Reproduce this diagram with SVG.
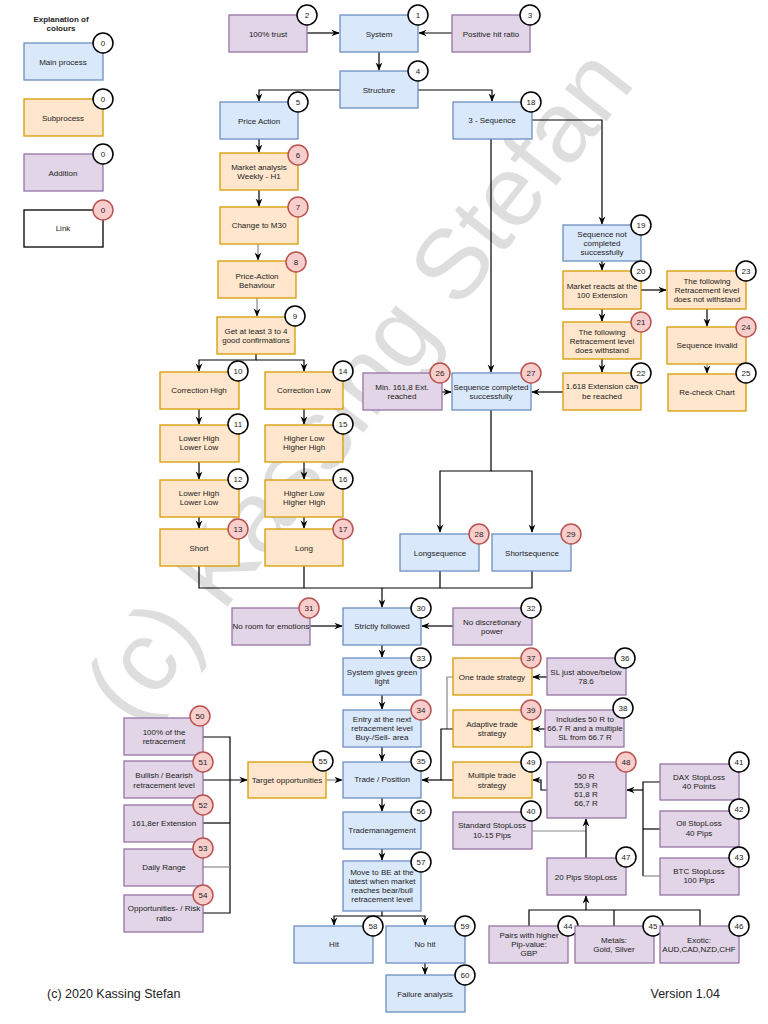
<svg xmlns="http://www.w3.org/2000/svg" width="768" height="1024" viewBox="0 0 768 1024">
<defs>
<marker id="a" viewBox="0 0 10 10" refX="9" refY="5" markerWidth="7" markerHeight="7" orient="auto"><path d="M0,1 L10,5 L0,9 L3,5 z" fill="#000"/></marker>
<style>
text{font-family:"Liberation Sans",Arial,sans-serif;font-size:8px;fill:#222;text-anchor:middle}
.b rect{fill:#dae8fc;stroke:#6c8ebf;stroke-width:1.3}
.o rect{fill:#ffe6cc;stroke:#d79b00;stroke-width:1.3}
.p rect{fill:#e1d5e7;stroke:#9673a6;stroke-width:1.3}
.w rect{fill:#fff;stroke:#000;stroke-width:1.3}
circle{fill:#fff;stroke:#000;stroke-width:1.5}
circle.r{fill:#f8cecc;stroke:#b85450}
.n{font-size:8px}
#c path{fill:none;stroke:#000;stroke-width:1.2}
#c path.g{stroke:#888}
.m{marker-end:url(#a)}
</style>
</defs>
<rect width="768" height="1024" fill="#fff"/>
<text x="385" y="405" transform="rotate(-52 385 405)" style="font-size:100px;fill:#000;fill-opacity:0.13">(c) Kassing Stefan</text>
<text x="61" y="22" style="font-weight:bold;font-size:8px">Explanation of</text>
<text x="61" y="31" style="font-weight:bold;font-size:8px">colours</text>
<g id="c">
<path class="m" d="M307,33 H339"/><path class="m" d="M452,33 H419"/><path class="m" d="M379,52 V70"/>
<path class="m" d="M340,90 H259 V101"/><path class="m" d="M418,90 H492 V101"/>
<path class="m" d="M259,139 V152"/><path class="m" d="M259,190 V206"/><path class="m g" d="M258,244 V260"/><path class="m g" d="M257,298 V316"/>
<path class="m" d="M256,354 V360 H199 V371"/><path class="m" d="M256,360 H304 V371"/>
<path class="m" d="M199,409 V424"/><path class="m" d="M199,462 V479"/><path class="m" d="M199,517 V528"/>
<path class="m" d="M304,409 V424"/><path class="m" d="M304,462 V479"/><path class="m" d="M304,517 V528"/>
<path d="M199,566 V588 H532 V571"/><path d="M304,566 V588"/><path d="M440,571 V588"/><path class="m" d="M382,588 V607"/>
<path class="m" d="M491,139 V372"/><path class="m" d="M532,120 H602 V224"/>
<path class="m" d="M602,261 V270"/><path class="m" d="M602,309 V321"/><path class="m" d="M602,359 V372"/><path class="m" d="M641,290 H666"/>
<path class="m" d="M707,309 V326"/><path class="m g" d="M707,364 V373"/>
<path class="m" d="M563,392 H532"/><path class="m" d="M442,392 H451"/>
<path class="m" d="M491,410 V471 H440 V532"/><path class="m" d="M491,471 H532 V532"/>
<path class="m" d="M310,626 H342"/><path class="m" d="M453,626 H422"/>
<path class="m" d="M382,645 V657"/><path class="m" d="M382,695 V709"/><path class="m" d="M382,747 V761"/><path class="m" d="M382,798 V811"/><path class="m" d="M382,849 V860"/>
<path class="m" d="M382,911 V916 H334 V925"/><path class="m" d="M382,916 H425 V925"/><path class="m" d="M425,963 V974"/>
<path d="M203,737 H230 V913 H203"/><path d="M203,823 H230"/><path class="g" d="M203,867 H230"/><path class="m" d="M203,780 H247"/>
<path class="m g" d="M326,780 H342"/>
<path class="g" d="M453,677 H447 V729"/><path d="M453,729 H441 V780"/><path class="m" d="M453,780 H422"/>
<path class="m" d="M547,677 H533"/><path class="m" d="M545,729 H533"/>
<path class="m" d="M547,790 H541 V780 H533"/>
<path class="g" d="M532,831 H586"/><path class="m" d="M586,858 V819"/>
<path d="M660,782 H643 V876"/><path d="M660,829 H643"/><path class="g" d="M660,876 H643"/><path class="m" d="M643,790 H627"/>
<path d="M529,926 V910 H700 V926"/><path d="M614,910 V926"/><path class="m" d="M586,910 V896"/>
</g>
<g id="n0a" class="b"><rect x="24" y="43" width="79" height="37"/><text x="63" y="65">Main process</text><circle cx="103" cy="43" r="10"/><text class="n" x="103" y="46">0</text></g>
<g id="n0b" class="o"><rect x="24" y="99" width="79" height="37"/><text x="63" y="121">Subprocess</text><circle cx="103" cy="99" r="10"/><text class="n" x="103" y="102">0</text></g>
<g id="n0c" class="p"><rect x="24" y="154" width="79" height="37"/><text x="63" y="176">Addition</text><circle cx="103" cy="154" r="10"/><text class="n" x="103" y="157">0</text></g>
<g id="n0d" class="w"><rect x="24" y="210" width="79" height="37"/><text x="63" y="231">Link</text><circle class="r" cx="103" cy="210" r="10"/><text class="n" x="103" y="213">0</text></g>
<g id="n2" class="p"><rect x="229" y="15" width="78" height="37"/><text x="268" y="37">100% trust</text><circle cx="307" cy="15" r="10"/><text class="n" x="307" y="18">2</text></g>
<g id="n1" class="b"><rect x="340" y="15" width="78" height="37"/><text x="379" y="37">System</text><circle cx="418" cy="15" r="10"/><text class="n" x="418" y="18">1</text></g>
<g id="n3" class="p"><rect x="452" y="15" width="78" height="37"/><text x="491" y="37">Positive hit ratio</text><circle cx="530" cy="15" r="10"/><text class="n" x="530" y="18">3</text></g>
<g id="n4" class="b"><rect x="340" y="71" width="78" height="37"/><text x="379" y="93">Structure</text><circle cx="418" cy="71" r="10"/><text class="n" x="418" y="74">4</text></g>
<g id="n5" class="b"><rect x="220" y="102" width="78" height="37"/><text x="259" y="124">Price Action</text><circle cx="298" cy="102" r="10"/><text class="n" x="298" y="105">5</text></g>
<g id="n6" class="o"><rect x="220" y="153" width="78" height="37"/><text x="259" y="170">Market analysis</text><text x="259" y="179">Weekly - H1</text><circle class="r" cx="298" cy="155" r="10"/><text class="n" x="298" y="158">6</text></g>
<g id="n7" class="o"><rect x="220" y="207" width="78" height="37"/><text x="259" y="228">Change to M30</text><circle class="r" cx="298" cy="207" r="10"/><text class="n" x="298" y="210">7</text></g>
<g id="n8" class="o"><rect x="218" y="261" width="78" height="37"/><text x="257" y="279">Price-Action</text><text x="257" y="288">Behaviour</text><circle class="r" cx="296" cy="262" r="10"/><text class="n" x="296" y="265">8</text></g>
<g id="n9" class="o"><rect x="217" y="317" width="78" height="37"/><text x="256" y="334">Get at least 3 to 4</text><text x="256" y="343">good confirmations</text><circle cx="295" cy="316" r="10"/><text class="n" x="295" y="319">9</text></g>
<g id="n10" class="o"><rect x="160" y="372" width="79" height="37"/><text x="199" y="393">Correction High</text><circle cx="238" cy="371" r="10"/><text class="n" x="238" y="374">10</text></g>
<g id="n11" class="o"><rect x="160" y="425" width="79" height="37"/><text x="199" y="441">Lower High</text><text x="199" y="450">Lower Low</text><circle cx="238" cy="424" r="10"/><text class="n" x="238" y="427">11</text></g>
<g id="n12" class="o"><rect x="160" y="480" width="79" height="37"/><text x="199" y="496">Lower High</text><text x="199" y="505">Lower Low</text><circle cx="238" cy="479" r="10"/><text class="n" x="238" y="482">12</text></g>
<g id="n13" class="o"><rect x="160" y="529" width="79" height="37"/><text x="199" y="551">Short</text><circle class="r" cx="238" cy="529" r="10"/><text class="n" x="238" y="532">13</text></g>
<g id="n14" class="o"><rect x="265" y="372" width="78" height="37"/><text x="304" y="393">Correction Low</text><circle cx="343" cy="371" r="10"/><text class="n" x="343" y="374">14</text></g>
<g id="n15" class="o"><rect x="265" y="425" width="78" height="37"/><text x="304" y="441">Higher Low</text><text x="304" y="450">Higher High</text><circle cx="343" cy="424" r="10"/><text class="n" x="343" y="427">15</text></g>
<g id="n16" class="o"><rect x="265" y="480" width="78" height="37"/><text x="304" y="496">Higher Low</text><text x="304" y="505">Higher High</text><circle cx="343" cy="479" r="10"/><text class="n" x="343" y="482">16</text></g>
<g id="n17" class="o"><rect x="265" y="529" width="78" height="37"/><text x="304" y="551">Long</text><circle class="r" cx="343" cy="529" r="10"/><text class="n" x="343" y="532">17</text></g>
<g id="n18" class="b"><rect x="453" y="102" width="79" height="37"/><text x="492" y="123">3 - Sequence</text><circle cx="531" cy="102" r="10"/><text class="n" x="531" y="105">18</text></g>
<g id="n19" class="b"><rect x="563" y="225" width="78" height="36"/><text x="602" y="237">Sequence not</text><text x="602" y="246">completed</text><text x="602" y="255">successfully</text><circle cx="641" cy="225" r="10"/><text class="n" x="641" y="228">19</text></g>
<g id="n20" class="o"><rect x="563" y="271" width="78" height="38"/><text x="602" y="289">Market reacts at the</text><text x="602" y="298">100 Extension</text><circle cx="641" cy="271" r="10"/><text class="n" x="641" y="274">20</text></g>
<g id="n21" class="o"><rect x="563" y="322" width="78" height="37"/><text x="602" y="335">The following</text><text x="602" y="344">Retracement level</text><text x="602" y="353">does withstand</text><circle class="r" cx="641" cy="322" r="10"/><text class="n" x="641" y="325">21</text></g>
<g id="n22" class="o"><rect x="563" y="373" width="78" height="37"/><text x="602" y="389">1.618 Extension can</text><text x="602" y="399">be reached</text><circle cx="641" cy="373" r="10"/><text class="n" x="641" y="376">22</text></g>
<g id="n23" class="o"><rect x="667" y="271" width="79" height="38"/><text x="707" y="284">The following</text><text x="707" y="293">Retracement level</text><text x="707" y="302">does not withstand</text><circle cx="746" cy="271" r="10"/><text class="n" x="746" y="274">23</text></g>
<g id="n24" class="o"><rect x="667" y="327" width="79" height="37"/><text x="707" y="348">Sequence invalid</text><circle class="r" cx="746" cy="327" r="10"/><text class="n" x="746" y="330">24</text></g>
<g id="n25" class="o"><rect x="668" y="374" width="78" height="37"/><text x="707" y="395">Re-check Chart</text><circle cx="746" cy="373" r="10"/><text class="n" x="746" y="376">25</text></g>
<g id="n26" class="p"><rect x="363" y="373" width="79" height="37"/><text x="402" y="390">Min. 161,8 Ext.</text><text x="402" y="399">reached</text><circle class="r" cx="440" cy="373" r="10"/><text class="n" x="440" y="376">26</text></g>
<g id="n27" class="b"><rect x="452" y="373" width="79" height="37"/><text x="491" y="390">Sequence completed</text><text x="491" y="399">successfully</text><circle class="r" cx="531" cy="373" r="10"/><text class="n" x="531" y="376">27</text></g>
<g id="n28" class="b"><rect x="400" y="534" width="79" height="37"/><text x="440" y="556">Longsequence</text><circle class="r" cx="479" cy="534" r="10"/><text class="n" x="479" y="537">28</text></g>
<g id="n29" class="b"><rect x="492" y="534" width="79" height="37"/><text x="532" y="556">Shortsequence</text><circle class="r" cx="571" cy="534" r="10"/><text class="n" x="571" y="537">29</text></g>
<g id="n30" class="b"><rect x="343" y="608" width="78" height="37"/><text x="382" y="629">Strictly followed</text><circle cx="421" cy="608" r="10"/><text class="n" x="421" y="611">30</text></g>
<g id="n31" class="p"><rect x="232" y="608" width="78" height="37"/><text x="271" y="629">No room for emotions</text><circle class="r" cx="309" cy="608" r="10"/><text class="n" x="309" y="611">31</text></g>
<g id="n32" class="p"><rect x="453" y="608" width="79" height="37"/><text x="492" y="625">No discretionary</text><text x="492" y="634">power</text><circle cx="531" cy="608" r="10"/><text class="n" x="531" y="611">32</text></g>
<g id="n33" class="b"><rect x="343" y="658" width="78" height="37"/><text x="382" y="675">System gives green</text><text x="382" y="684">light</text><circle cx="421" cy="658" r="10"/><text class="n" x="421" y="661">33</text></g>
<g id="n34" class="b"><rect x="343" y="710" width="78" height="37"/><text x="382" y="722">Entry at the next</text><text x="382" y="731">retracement level</text><text x="382" y="740">Buy-/Sell- area</text><circle class="r" cx="421" cy="710" r="10"/><text class="n" x="421" y="713">34</text></g>
<g id="n35" class="b"><rect x="343" y="762" width="78" height="36"/><text x="382" y="782">Trade / Position</text><circle cx="421" cy="761" r="10"/><text class="n" x="421" y="764">35</text></g>
<g id="n56" class="b"><rect x="343" y="812" width="78" height="37"/><text x="382" y="833">Trademanagement</text><circle cx="421" cy="811" r="10"/><text class="n" x="421" y="814">56</text></g>
<g id="n57" class="b"><rect x="343" y="861" width="78" height="50"/><text x="382" y="875">Move to BE at the</text><text x="382" y="884">latest when market</text><text x="382" y="893">reaches bear/bull</text><text x="382" y="902">retracement level</text><circle cx="421" cy="862" r="10"/><text class="n" x="421" y="865">57</text></g>
<g id="n58" class="b"><rect x="294" y="926" width="79" height="37"/><text x="334" y="947">Hit</text><circle cx="373" cy="926" r="10"/><text class="n" x="373" y="929">58</text></g>
<g id="n59" class="b"><rect x="386" y="926" width="79" height="37"/><text x="425" y="947">No hit</text><circle cx="465" cy="926" r="10"/><text class="n" x="465" y="929">59</text></g>
<g id="n60" class="b"><rect x="386" y="975" width="79" height="37"/><text x="425" y="997">Failure analysis</text><circle cx="465" cy="975" r="10"/><text class="n" x="465" y="978">60</text></g>
<g id="n55" class="o"><rect x="248" y="762" width="78" height="36"/><text x="287" y="783">Target opportunities</text><circle cx="323" cy="761" r="10"/><text class="n" x="323" y="764">55</text></g>
<g id="n50" class="p"><rect x="124" y="718" width="79" height="37"/><text x="164" y="735">100% of the</text><text x="164" y="744">retracement</text><circle class="r" cx="200" cy="716" r="10"/><text class="n" x="200" y="719">50</text></g>
<g id="n51" class="p"><rect x="124" y="761" width="79" height="37"/><text x="164" y="778">Bullish / Bearish</text><text x="164" y="788">retracement level</text><circle class="r" cx="203" cy="762" r="10"/><text class="n" x="203" y="765">51</text></g>
<g id="n52" class="p"><rect x="124" y="805" width="79" height="37"/><text x="164" y="826">161,8er Extension</text><circle class="r" cx="203" cy="805" r="10"/><text class="n" x="203" y="808">52</text></g>
<g id="n53" class="p"><rect x="124" y="849" width="79" height="37"/><text x="164" y="870">Daily Range</text><circle class="r" cx="203" cy="848" r="10"/><text class="n" x="203" y="851">53</text></g>
<g id="n54" class="p"><rect x="124" y="895" width="79" height="37"/><text x="164" y="911">Opportunities- / Risk</text><text x="164" y="921">ratio</text><circle class="r" cx="203" cy="895" r="10"/><text class="n" x="203" y="898">54</text></g>
<g id="n37" class="o"><rect x="453" y="658" width="79" height="37"/><text x="492" y="680">One trade strategy</text><circle class="r" cx="531" cy="658" r="10"/><text class="n" x="531" y="661">37</text></g>
<g id="n39" class="o"><rect x="453" y="710" width="79" height="37"/><text x="492" y="727">Adaptive trade</text><text x="492" y="736">strategy</text><circle class="r" cx="531" cy="710" r="10"/><text class="n" x="531" y="713">39</text></g>
<g id="n49" class="o"><rect x="453" y="762" width="79" height="36"/><text x="492" y="778">Multiple trade</text><text x="492" y="788">strategy</text><circle cx="531" cy="762" r="10"/><text class="n" x="531" y="765">49</text></g>
<g id="n40" class="p"><rect x="453" y="812" width="79" height="37"/><text x="492" y="828">Standard StopLoss</text><text x="492" y="838">10-15 Pips</text><circle cx="531" cy="811" r="10"/><text class="n" x="531" y="814">40</text></g>
<g id="n36" class="p"><rect x="547" y="658" width="79" height="37"/><text x="586" y="675">SL just above/below</text><text x="586" y="684">78.6</text><circle cx="625" cy="658" r="10"/><text class="n" x="625" y="661">36</text></g>
<g id="n38" class="p"><rect x="545" y="710" width="79" height="37"/><text x="585" y="722">Includes 50 R to</text><text x="585" y="731">66.7 R and a multiple</text><text x="585" y="740">SL from 66.7 R</text><circle cx="623" cy="708" r="10"/><text class="n" x="623" y="711">38</text></g>
<g id="n48" class="p"><rect x="547" y="762" width="79" height="56"/><text x="586" y="779">50 R</text><text x="586" y="788">55,9 R</text><text x="586" y="797">61,8 R</text><text x="586" y="806">66,7 R</text><circle class="r" cx="626" cy="762" r="10"/><text class="n" x="626" y="765">48</text></g>
<g id="n47" class="p"><rect x="547" y="858" width="79" height="37"/><text x="586" y="880">20 Pips StopLoss</text><circle cx="626" cy="857" r="10"/><text class="n" x="626" y="860">47</text></g>
<g id="n41" class="p"><rect x="660" y="764" width="79" height="36"/><text x="699" y="780">DAX StopLoss</text><text x="699" y="789">40 Points</text><circle cx="739" cy="762" r="10"/><text class="n" x="739" y="765">41</text></g>
<g id="n42" class="p"><rect x="660" y="811" width="79" height="36"/><text x="699" y="826">Oil StopLoss</text><text x="699" y="836">40 Pips</text><circle cx="739" cy="809" r="10"/><text class="n" x="739" y="812">42</text></g>
<g id="n43" class="p"><rect x="660" y="858" width="79" height="37"/><text x="699" y="874">BTC StopLoss</text><text x="699" y="883">100 Pips</text><circle cx="739" cy="857" r="10"/><text class="n" x="739" y="860">43</text></g>
<g id="n44" class="p"><rect x="489" y="926" width="79" height="37"/><text x="529" y="938">Pairs with higher</text><text x="529" y="947">Pip-value:</text><text x="529" y="956">GBP</text><circle cx="568" cy="926" r="10"/><text class="n" x="568" y="929">44</text></g>
<g id="n45" class="p"><rect x="575" y="926" width="79" height="37"/><text x="614" y="943">Metals:</text><text x="614" y="952">Gold, Silver</text><circle cx="653" cy="926" r="10"/><text class="n" x="653" y="929">45</text></g>
<g id="n46" class="p"><rect x="660" y="926" width="79" height="37"/><text x="699" y="943">Exotic:</text><text x="699" y="952">AUD,CAD,NZD,CHF</text><circle cx="739" cy="926" r="10"/><text class="n" x="739" y="929">46</text></g>
<text x="47" y="998" style="text-anchor:start;font-size:12.5px">(c) 2020 Kassing Stefan</text>
<text x="720" y="998" style="text-anchor:end;font-size:12.5px">Version 1.04</text>
</svg>
